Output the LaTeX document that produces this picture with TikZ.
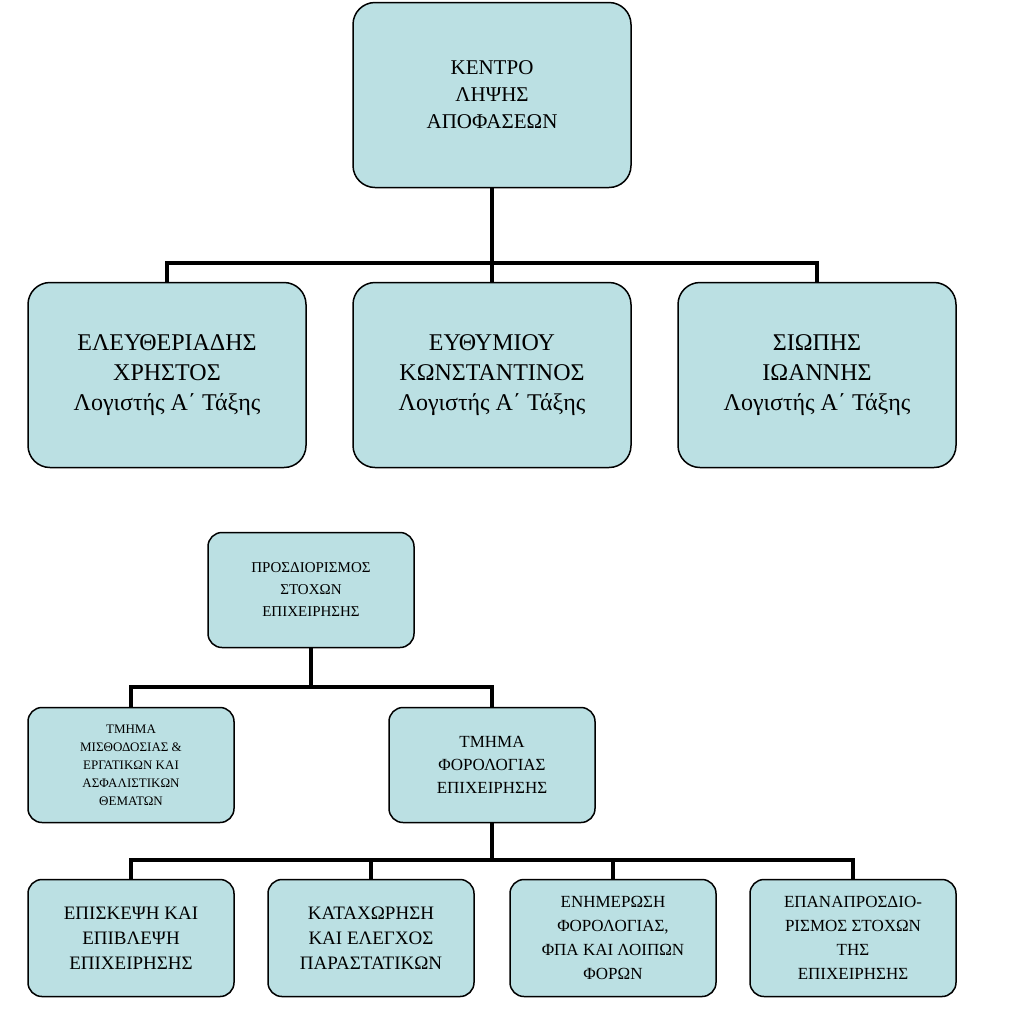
\documentclass[tikz,border=0pt]{standalone}
\usepackage{fontspec}
\setmainfont{Liberation Serif}
\definecolor{boxfill}{RGB}{187,224,227}
\begin{document}
\begin{tikzpicture}[x=1pt,y=-1pt,
  box/.style={draw,line width=1.5pt,fill=boxfill,rounded corners=22pt,align=center,inner sep=0pt},
  big/.style={box,minimum width=278pt,minimum height=185pt,font=\fontsize{24}{30}\selectfont},
  small/.style={box,rounded corners=14pt,minimum width=206pt,minimum height=115pt},
  link/.style={line width=4.5pt}]
  \useasboundingbox (0,0) rectangle (1024,1013);
  \node[big,font=\fontsize{21}{27}\selectfont] (centre) at (492,95) {ΚΕΝΤΡΟ\\ΛΗΨΗΣ\\ΑΠΟΦΑΣΕΩΝ};
  \node[big] (eleft) at (167,375) {ΕΛΕΥΘΕΡΙΑΔΗΣ\\ΧΡΗΣΤΟΣ\\Λογιστής Α΄ Τάξης};
  \node[big] (efth) at (492,375) {ΕΥΘΥΜΙΟΥ\\ΚΩΝΣΤΑΝΤΙΝΟΣ\\Λογιστής Α΄ Τάξης};
  \node[big] (siop) at (817,375) {ΣΙΩΠΗΣ\\ΙΩΑΝΝΗΣ\\Λογιστής Α΄ Τάξης};
  \coordinate (bus1) at (492,263);
  \draw[link] (centre) -- (bus1) -| (eleft.north);
  \draw[link] (bus1) -- (efth.north);
  \draw[link] (bus1) -| (siop.north);
  % second tree
  \node[small,font=\fontsize{15}{22}\selectfont] (goals) at (311,590) {ΠΡΟΣΔΙΟΡΙΣΜΟΣ\\ΣΤΟΧΩΝ\\ΕΠΙΧΕΙΡΗΣΗΣ};
  \node[small,font=\fontsize{13}{18}\selectfont] (payroll) at (131,765) {ΤΜΗΜΑ\\ΜΙΣΘΟΔΟΣΙΑΣ \&\\ΕΡΓΑΤΙΚΩΝ ΚΑΙ\\ΑΣΦΑΛΙΣΤΙΚΩΝ\\ΘΕΜΑΤΩΝ};
  \node[small,font=\fontsize{17}{23}\selectfont] (tax) at (492,765) {ΤΜΗΜΑ\\ΦΟΡΟΛΟΓΙΑΣ\\ΕΠΙΧΕΙΡΗΣΗΣ};
  \coordinate (bus2) at (311,687);
  \draw[link] (goals) -- (bus2) -| (payroll.north);
  \draw[link] (bus2) -| (tax.north);
  \begin{scope}[every node/.style={small,minimum height=117pt}]
    \node[font=\fontsize{19}{25}\selectfont] (visit) at (131,938) {ΕΠΙΣΚΕΨΗ ΚΑΙ\\ΕΠΙΒΛΕΨΗ\\ΕΠΙΧΕΙΡΗΣΗΣ};
    \node[font=\fontsize{19}{25}\selectfont] (record) at (371,938) {ΚΑΤΑΧΩΡΗΣΗ\\ΚΑΙ ΕΛΕΓΧΟΣ\\ΠΑΡΑΣΤΑΤΙΚΩΝ};
    \node[font=\fontsize{17}{24}\selectfont] (update) at (613,938) {ΕΝΗΜΕΡΩΣΗ\\ΦΟΡΟΛΟΓΙΑΣ,\\ΦΠΑ ΚΑΙ ΛΟΙΠΩΝ\\ΦΟΡΩΝ};
    \node[font=\fontsize{17}{24}\selectfont] (redef) at (853,938) {ΕΠΑΝΑΠΡΟΣΔΙΟ-\\ΡΙΣΜΟΣ ΣΤΟΧΩΝ\\ΤΗΣ\\ΕΠΙΧΕΙΡΗΣΗΣ};
  \end{scope}
  \coordinate (bus3) at (492,860);
  \draw[link] (tax) -- (bus3) -| (visit.north);
  \draw[link] (bus3) -| (record.north);
  \draw[link] (bus3) -| (update.north);
  \draw[link] (bus3) -| (redef.north);
\end{tikzpicture}
\end{document}
